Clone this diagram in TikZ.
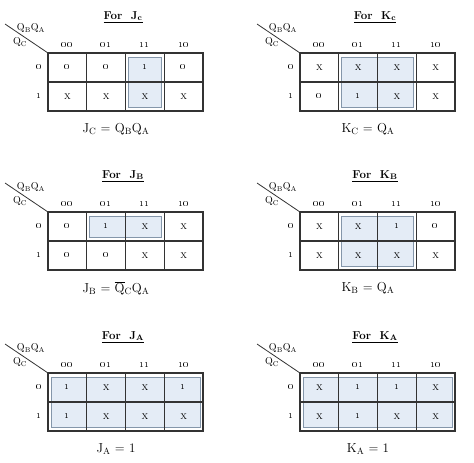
\documentclass[tikz,border=0pt]{standalone}
\usetikzlibrary{positioning}

\definecolor{kfill}{HTML}{E4ECF6}
\definecolor{kbord}{HTML}{8496AA}
\definecolor{kline}{HTML}{333333}

\tikzset{
  kgrid/.style={draw=kline, line width=1.2pt},
  kgroup/.style={draw=kbord, fill=kfill, line width=0.9pt},
  kcell/.style={inner sep=0pt, font=\fontsize{11}{13}\selectfont},
  khead/.style={inner sep=0pt, font=\fontsize{11}{13}\selectfont},
  krow/.style={inner sep=0pt, font=\fontsize{11}{13}\selectfont\bfseries},
  klabel/.style={inner sep=0pt, font=\fontsize{10}{12}\selectfont},
  ktitle/.style={inner sep=0pt, font=\fontsize{11.5}{14}\selectfont\bfseries},
  keq/.style={inner sep=0pt, font=\fontsize{13}{15}\selectfont},
}

% cell entries
\newcommand{\kz}{\oldstylenums{0}}
\newcommand{\ko}{\oldstylenums{1}}
\newcommand{\kx}{\textsc{x}}

% group rectangle, in cell units
\newcommand{\hl}[4]{\draw[kgroup] ({#1*38.75+3},{#2*29+4}) rectangle ({#3*38.75-3},{#4*29-4});}

% one map: name, title, row 0, row 1, equation
\newcommand{\kmap}[5]{%
  \draw[kgrid] (0,0) rectangle (155,58);
  \foreach \c in {1,2,3} \draw[kgrid] (\c*38.75,0) -- (\c*38.75,58);
  \draw[kgrid] (0,29) -- (155,29);
  \coordinate (#1-corner) at (0,0);
  \coordinate (#1-tip) at (-43,-29);
  \draw[kline, line width=0.8pt] (#1-tip) -- (#1-corner);
  \node[klabel] (#1-ab) at (-17,-25) {Q\textsubscript{B}Q\textsubscript{A}};
  \node[klabel] (#1-c) at (-28,-11) {Q\textsubscript{C}};
  \foreach \h [count=\i from 0] in {00,01,11,10}
    \node[khead] (#1-h\i) at (\i*38.75+19.4,-8) {\oldstylenums{\h}};
  \node[krow] (#1-r0) at (-9,14.5) {\oldstylenums{0}};
  \node[krow] (#1-r1) at (-9,43.5) {\oldstylenums{1}};
  \foreach \v [count=\i from 0] in {#3}
    \node[kcell] (#1-a\i) at (\i*38.75+19.4,14.5) {\v};
  \foreach \v [count=\i from 0] in {#4}
    \node[kcell] (#1-b\i) at (\i*38.75+19.4,43.5) {\v};
  \node[ktitle] (#1-t) at (75,-36) {\underline{For~~#2}};
  \node[keq] (#1-eq) at (68,76) {#5};
}

\begin{document}
\begin{tikzpicture}[x=1pt, y=-1pt]
  \useasboundingbox (0,0) rectangle (474,463);

  % J_C
  \begin{scope}[shift={(48,53)}]
    \hl{2}{0}{3}{2}
    \kmap{jc}{J\textsubscript{c}}{\kz,\kz,\ko,\kz}{\kx,\kx,\kx,\kx}{J\textsubscript{C} = Q\textsubscript{B}Q\textsubscript{A}}
  \end{scope}
  % K_C
  \begin{scope}[shift={(300,53)}]
    \hl{1}{0}{3}{2}
    \kmap{kc}{K\textsubscript{c}}{\kx,\kx,\kx,\kx}{\kz,\ko,\kx,\kx}{K\textsubscript{C} = Q\textsubscript{A}}
  \end{scope}

  % J_B
  \begin{scope}[shift={(48,212)}]
    \hl{1}{0}{3}{1}
    \kmap{jb}{J\textsubscript{B}}{\kz,\ko,\kx,\kx}{\kz,\kz,\kx,\kx}{J\textsubscript{B} = $\overline{\mbox{Q}}$\textsubscript{C}Q\textsubscript{A}}
  \end{scope}
  % K_B
  \begin{scope}[shift={(300,212)}]
    \hl{1}{0}{3}{2}
    \kmap{kb}{K\textsubscript{B}}{\kx,\kx,\ko,\kz}{\kx,\kx,\kx,\kx}{K\textsubscript{B} = Q\textsubscript{A}}
  \end{scope}

  % J_A
  \begin{scope}[shift={(48,373)}]
    \hl{0}{0}{4}{2}
    \kmap{ja}{J\textsubscript{A}}{\ko,\kx,\kx,\ko}{\ko,\kx,\kx,\kx}{J\textsubscript{A} = 1}
  \end{scope}
  % K_A
  \begin{scope}[shift={(300,373)}]
    \hl{0}{0}{4}{2}
    \kmap{ka}{K\textsubscript{A}}{\kx,\ko,\ko,\kx}{\kx,\ko,\kx,\kx}{K\textsubscript{A} = 1}
  \end{scope}
\end{tikzpicture}
\end{document}
